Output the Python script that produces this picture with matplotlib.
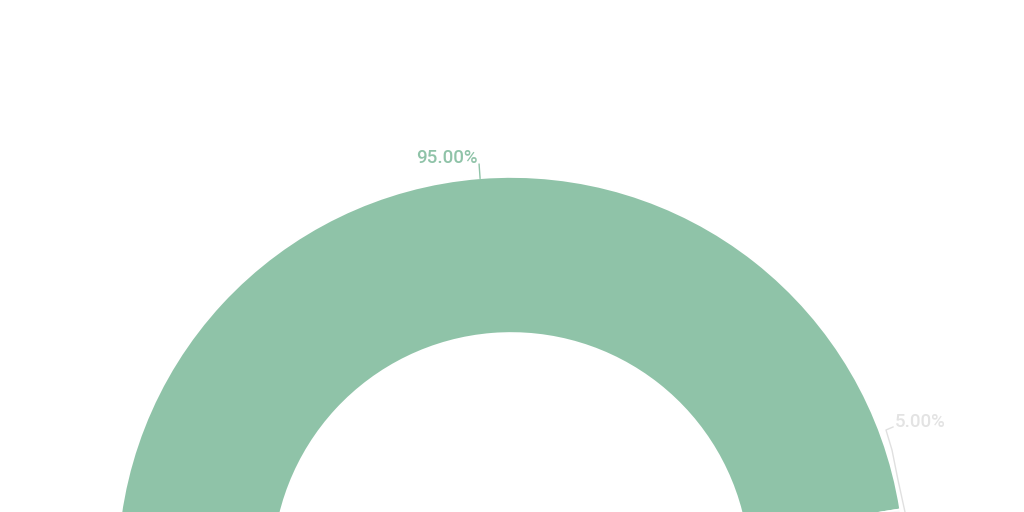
import matplotlib
matplotlib.use("Agg")
import matplotlib.pyplot as plt
import numpy as np

# data
labels = ["A", "B"]
values = [95, 5]
colors = ["#8fc3a8", "#f7f7f7"]
label_colors = ["#8fc3a8", "#e3e3e3"]

total = float(sum(values))
fracs = [v / total / 2.0 for v in values]  # half donut
pct_text = ["%.2f%%" % (v / total * 100) for v in values]

W, H = 1024, 512
fig = plt.figure(figsize=(W / 100, H / 100), dpi=100)
ax = fig.add_axes([0, 0, 1, 1])

cx, cy = 511, 512 - 571
R = 394
ring = 156

wedges, _ = ax.pie(fracs, startangle=180, counterclock=False, radius=R,
                   center=(cx, cy), colors=colors, normalize=False,
                   wedgeprops=dict(width=ring, edgecolor="white", linewidth=1.2))

ax.set_xlim(0, W)
ax.set_ylim(0, H)
ax.set_aspect("equal", adjustable="box")
ax.axis("off")

font = "Roboto"

# 95% label: short leader straight up from the middle of the slice
w = wedges[0]
mid = np.radians((w.theta1 + w.theta2) / 2)
px, py = cx + R * np.cos(mid), cy + R * np.sin(mid)
ax.plot([px, px - 1], [py, py + 14], color=label_colors[0], lw=1)
ax.text(px - 2, py + 20, pct_text[0], color=label_colors[0], fontsize=13.5,
        family=font, weight="medium", ha="right", va="center")

# 5% label: leader bends up past the ring edge
w = wedges[1]
mid = np.radians((w.theta1 + w.theta2) / 2)
px, py = cx + R * np.cos(mid), cy + R * np.sin(mid)
lx = [px + 2, 905, 898, 892, 886, 893]
ly = [py, 512 - 512, 512 - 480, 512 - 450, 512 - 430, 512 - 427]
ax.plot(lx, ly, color="#e0e0e0", lw=1)
ax.text(895, 512 - 422, pct_text[1], color=label_colors[1], fontsize=13.5,
        family=font, weight="medium", ha="left", va="center")

fig.savefig("out.png", dpi=100)
